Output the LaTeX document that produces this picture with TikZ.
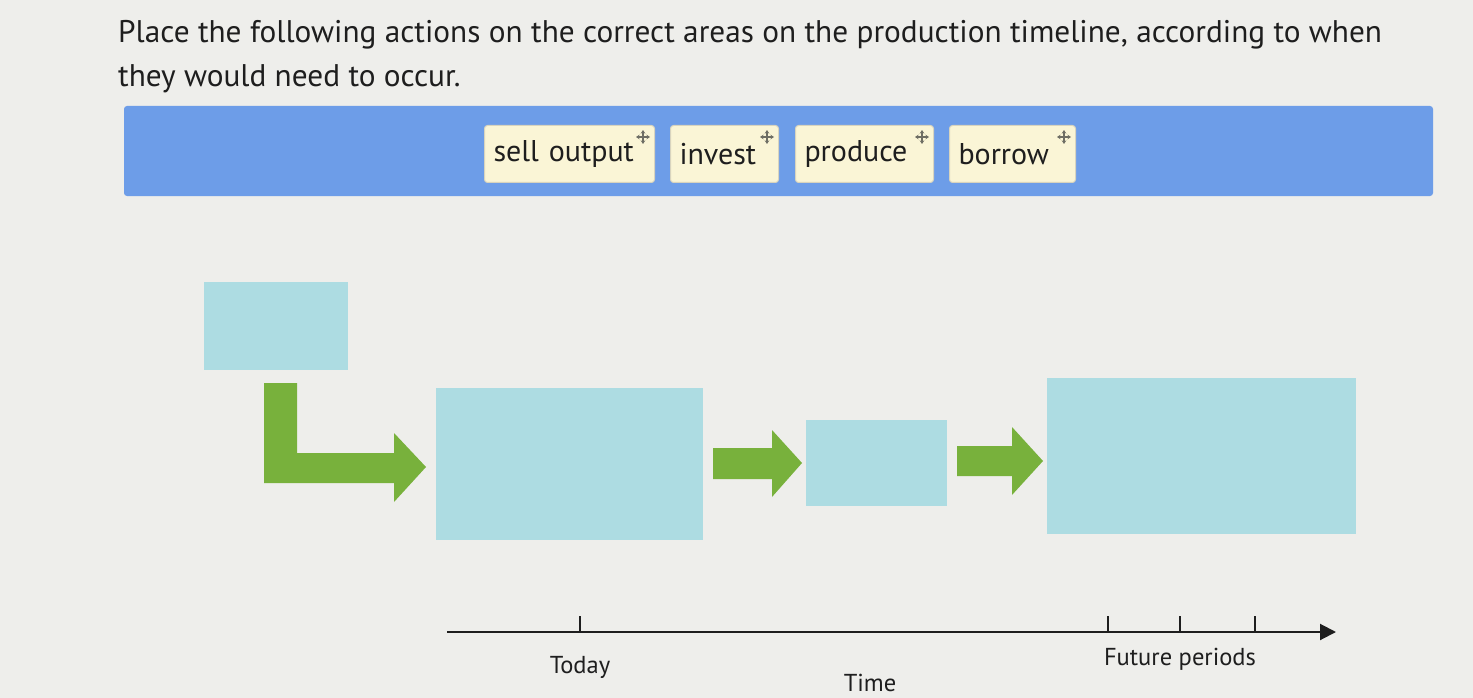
\documentclass[tikz,border=0pt]{standalone}
\usepackage{fontspec}
\setmainfont{PT Sans}
\usetikzlibrary{arrows.meta}
\definecolor{bg}{HTML}{EEEEEB}
\definecolor{band}{HTML}{6D9DE8}
\definecolor{chipfill}{HTML}{FAF5D6}
\definecolor{chipline}{HTML}{D8D4BE}
\definecolor{slotblue}{HTML}{ADDCE2}
\definecolor{grn}{HTML}{78B13C}
\definecolor{ink}{HTML}{1E1E1E}
\definecolor{icon}{HTML}{6E6E64}
\tikzset{
  slot/.style={fill=slotblue, draw=none, inner sep=0pt},
  chip/.style={fill=chipfill, draw=chipline, line width=1pt, rounded corners=3pt, minimum height=57pt, inner xsep=9pt, anchor=west, align=left, font=\fontsize{30}{30}\selectfont, text=ink},
  garrow/.style={fill=grn, draw=none},
  lbl/.style={font=\fontsize{24.5}{24.5}\selectfont, text=ink, anchor=base},
  moveicon/.style={line width=1.1pt, draw=icon, -{Stealth[length=3.5pt,width=4.5pt]}}
}
\newcommand{\moveat}[1]{%
  \draw[moveicon] (#1) -- ++(0,-7);
  \draw[moveicon] (#1) -- ++(0,7);
  \draw[moveicon] (#1) -- ++(-7,0);
  \draw[moveicon] (#1) -- ++(7,0);
}
\begin{document}
\begin{tikzpicture}[x=1pt,y=-1pt]
\fill[bg] (0,0) rectangle (1473,698);
\useasboundingbox (0,0) rectangle (1473,698);

% title
\node[anchor=base west, inner sep=0pt, font=\fontsize{31.3}{31.3}\selectfont, text=ink] (t1) at (118,43) {Place the following actions on the correct areas on the production timeline, according to when};
\node[anchor=base west, inner sep=0pt, font=\fontsize{31.3}{31.3}\selectfont, text=ink] (t2) at (118,87) {they would need to occur.};

% band
\fill[band, rounded corners=3pt] (124,106) rectangle (1433,196);

% chips
\node[chip, text width=152pt] (c1) at (484,154) {sell output};
\node[chip, text width=90pt] (c2) at (670,154) {invest};
\node[chip, text width=120pt] (c3) at (795,154) {produce};
\node[chip, text width=108pt] (c4) at (949,154) {borrow};
\coordinate (i1) at ([xshift=-12pt,yshift=-12pt]c1.north east);
\coordinate (i2) at ([xshift=-12pt,yshift=-12pt]c2.north east);
\coordinate (i3) at ([xshift=-12pt,yshift=-12pt]c3.north east);
\coordinate (i4) at ([xshift=-12pt,yshift=-12pt]c4.north east);
\moveat{i1}\moveat{i2}\moveat{i3}\moveat{i4}

% slots
\node[slot, minimum width=144pt, minimum height=88pt] (s0) at (276,326) {};
\node[slot, minimum width=267pt, minimum height=152pt] (s1) at (569.5,464) {};
\node[slot, minimum width=141pt, minimum height=86pt] (s2) at (876.5,463) {};
\node[slot, minimum width=309pt, minimum height=156pt] (s3) at (1201.5,456) {};

% green arrows
\fill[garrow] (264,383) -- (297,383) -- (297,453) -- (394,453) -- (394,433) -- (426,467) -- (394,502) -- (394,483) -- (264,483) -- cycle;
\fill[garrow] (713,448) -- (772,448) -- (772,430) -- (802,463) -- (772,497) -- (772,479) -- (713,479) -- cycle;
\fill[garrow] (957,446) -- (1012,446) -- (1012,427) -- (1043,461) -- (1012,495) -- (1012,476) -- (957,476) -- cycle;

% timeline
\coordinate (tl0) at (447,632);
\coordinate (tl1) at (1336,632);
\draw[line width=2pt, draw=ink, -{Triangle[length=16pt,width=16pt]}] (tl0) -- (tl1);
\foreach \x in {580,1108,1180,1255}{
  \draw[line width=1.2pt, draw=ink] (\x,632) -- (\x,616);
}
\node[lbl] (today) at (580,673) {Today};
\node[lbl] (future) at (1180,665) {Future periods};
\node[lbl] (time) at (870,691) {Time};
\end{tikzpicture}
\end{document}
